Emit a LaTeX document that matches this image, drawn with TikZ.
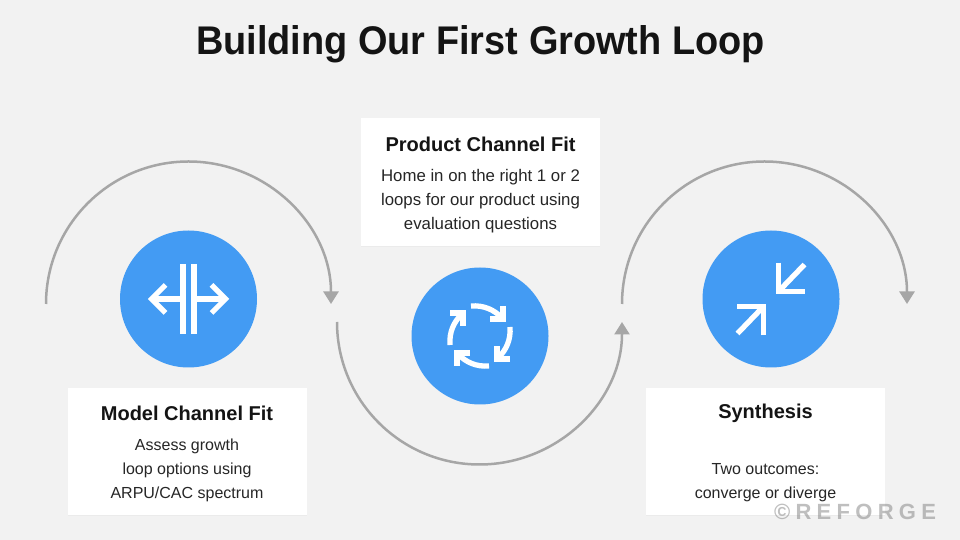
\documentclass[tikz,border=0pt]{standalone}
\usepackage{fontspec}
\setmainfont{Liberation Sans}
\newfontfamily\markfont[LetterSpace=24]{Liberation Sans}
\usetikzlibrary{arrows.meta, shadows}
\definecolor{pagegray}{HTML}{F2F2F2}
\definecolor{loopgray}{HTML}{A6A6A6}
\definecolor{iconblue}{HTML}{439BF3}
\definecolor{inkblack}{HTML}{141414}
\definecolor{bodyblack}{HTML}{262626}
\tikzset{
    iconcircle/.style={circle, fill=iconblue, minimum size=137pt, inner sep=0pt},
    textbox/.style={fill=white, minimum width=239pt, minimum height=127.5pt, inner sep=0pt,
        drop shadow={shadow xshift=0pt, shadow yshift=-1pt, opacity=0.06}},
    boxtitle/.style={text=inkblack, font=\fontsize{20}{24}\selectfont\bfseries},
    boxbody/.style={text=bodyblack, align=center, font=\fontsize{16}{24}\selectfont},
    loopline/.style={draw=loopgray, line width=2.5pt, -{Triangle[width=15pt,length=12.5pt]}},
    iconline/.style={draw=white, line width=5.3pt, miter limit=10}
}
\begin{document}
\begin{tikzpicture}[x=1pt,y=1pt]
    % Fix the page
    \fill[pagegray] (0,0) rectangle (960,540);

    % Title
    \node[text=inkblack, font=\fontsize{40}{48}\selectfont\bfseries, xscale=0.948] (title) at (480.5,496) {Building Our First Growth Loop};

    % Draw the three loop arcs
    \coordinate (modelStart) at (46,236);
    \coordinate (productStart) at (337,218);
    \coordinate (synthStart) at (622,236);
    \draw[loopline] (modelStart) arc[start angle=180, end angle=0, radius=142.5];
    \draw[loopline] (productStart) arc[start angle=180, end angle=360, radius=142.5];
    \draw[loopline] (synthStart) arc[start angle=180, end angle=0, radius=142.5];

    % Draw the circles
    \node[iconcircle] (modelIcon) at (188.5,241) {};
    \node[iconcircle] (productIcon) at (480,204) {};
    \node[iconcircle] (synthIcon) at (771,241) {};

    % Split arrows
    \begin{scope}[shift={(modelIcon.center)}]
        \draw[iconline] (-5.5,35) -- (-5.5,-35);
        \draw[iconline] (5.5,35) -- (5.5,-35);
        \draw[iconline] (-5.5,0) -- (-36,0);
        \draw[iconline] (5.5,0) -- (36,0);
        \draw[iconline] (-23,14) -- (-37,0) -- (-23,-14);
        \draw[iconline] (23,14) -- (37,0) -- (23,-14);
    \end{scope}

    % Four arrows going round
    \foreach \a in {0,90,180,270} {
        \begin{scope}[shift={(productIcon.center)}, rotate=\a]
            \draw[iconline] (-9,30) .. controls (4,31) and (14,26) .. (21,19);
            \draw[iconline] (23,30) -- (23,17) -- (10,17);
        \end{scope}
    }

    % Arrows coming together
    \begin{scope}[shift={(synthIcon.center)}]
        \draw[iconline] (7.2,36.3) -- (7.2,7.2) -- (34,7.2);
        \draw[iconline] (7.2,7.2) -- (33.5,34.5);
        \draw[iconline] (-7.2,-36.3) -- (-7.2,-7.2) -- (-34,-7.2);
        \draw[iconline] (-7.2,-7.2) -- (-33.5,-34.5);
    \end{scope}

    % Text boxes
    \node[textbox] (productBox) at (480.5,358) {};
    \node[textbox] (modelBox) at (187,88.5) {};
    \node[textbox] (synthBox) at (765.5,88.5) {};

    \node[boxtitle] (productTitle) at (480.5,396) {Product Channel Fit};
    \node[boxbody, font=\fontsize{16.8}{24}\selectfont] (productText) at (480.5,338.5) {Home in on the right 1 or 2\\loops for our product using\\evaluation questions};
    \node[boxtitle] (modelTitle) at (187,127) {Model Channel Fit};
    \node[boxbody] (modelText) at (187,69.5) {Assess growth\\loop options using\\ARPU/CAC spectrum};
    \node[boxtitle] (synthTitle) at (765.5,127) {Synthesis};
    \node[boxbody] (synthText) at (765.5,57.5) {Two outcomes:\\converge or diverge};

    % Watermark
    \node[text=gray, opacity=0.5, font=\fontsize{22}{24}\selectfont\markfont\bfseries] (reforge) at (855,28) {©REFORGE};
\end{tikzpicture}
\end{document}
